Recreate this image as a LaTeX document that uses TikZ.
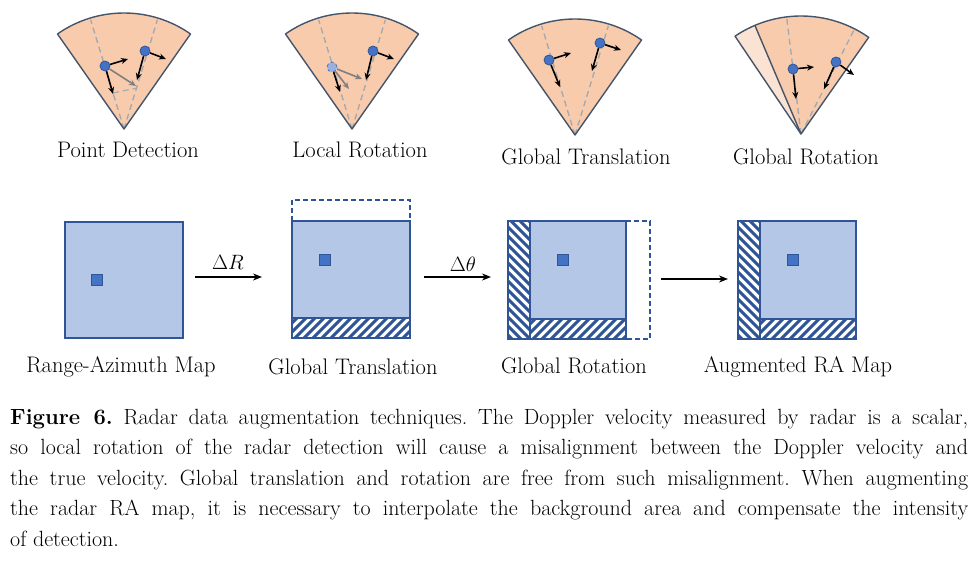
\documentclass[tikz,border=0pt]{standalone}
\usetikzlibrary{arrows.meta}
\definecolor{peach}{HTML}{F8CBAD}
\definecolor{peachL}{HTML}{FBE3D3}
\definecolor{edgec}{HTML}{44546A}
\definecolor{dashg}{HTML}{A0A8B0}
\definecolor{dotb}{HTML}{4472C4}
\definecolor{dotbd}{HTML}{2F5597}
\definecolor{boxf}{HTML}{B4C7E7}
\definecolor{boxd}{HTML}{2F5597}
\begin{document}
\begin{tikzpicture}[x=1pt,y=-1pt,
  sect/.style={fill=peach,draw=edgec,line width=1.4pt,line join=round},
  dsh/.style={draw=dashg,dashed,line width=1.3pt,dash pattern=on 6pt off 4pt},
  dot/.style={circle,fill=dotb,draw=dotbd,line width=0.8pt,inner sep=0pt,minimum size=10pt},
  ldot/.style={circle,fill=dotb!55,draw=dotb,dashed,line width=0.8pt,inner sep=0pt,minimum size=10pt},
  vec/.style={-{Stealth[length=7pt,width=6pt]},line width=1.6pt,black},
  gvec/.style={-{Stealth[length=7pt,width=6pt]},line width=1.6pt,gray},
  lbl/.style={font=\fontsize{22.5}{26}\selectfont},
  box/.style={fill=boxf,draw=boxd,line width=1.2pt},
  sq/.style={fill=dotb,draw=dotbd,line width=0.8pt,minimum size=11pt,inner sep=0pt},
  arr/.style={-{Stealth[length=9pt,width=7pt]},line width=1.6pt,black}]
\useasboundingbox (0,0) rectangle (975,561);
\newcommand\mysector[3]{% apex x, y, radius
  \fill[peach] (#1,#2) -- ++(-125:#3) arc[start angle=-125,end angle=-55,radius=#3] -- cycle;
  \draw[dsh] (#1,#2) -- ++(-107:#3-2);
  \draw[dsh] (#1,#2) -- ++(-73:#3-2);
  \draw[sect,fill=none] (#1,#2) -- ++(-125:#3) arc[start angle=-125,end angle=-55,radius=#3] -- cycle;}
\newcommand\hatchsl[4]{% "/" x0 y0 x1 y1
  \begin{scope}\clip (#1,#2) rectangle (#3,#4);
  \fill[white] (#1,#2) rectangle (#3,#4);
  \pgfmathsetmacro\hh{#4-#2}
  \foreach \a in {-150,-141,...,150}{\draw[boxd,line width=3pt] (#1+\a,#4) -- ++(\hh+2,-\hh-2);}
  \end{scope}\draw[boxd,line width=1.2pt] (#1,#2) rectangle (#3,#4);}
\newcommand\hatchbs[4]{% "\" x0 y0 x1 y1
  \begin{scope}\clip (#1,#2) rectangle (#3,#4);
  \fill[white] (#1,#2) rectangle (#3,#4);
  \pgfmathsetmacro\hh{#4-#2}
  \foreach \a in {-150,-141,...,40}{\draw[boxd,line width=3pt] (#1+\a,#2) -- ++(\hh+2,\hh+2);}
  \end{scope}\draw[boxd,line width=1.2pt] (#1,#2) rectangle (#3,#4);}

% ---------- sector 1
\mysector{124}{129}{116}
\draw[dsh,line width=1.1pt] (113,93) -- (137,88);
\node[dot] (p1) at (105,66) {};
\node[dot] (p2) at (145,51) {};
\coordinate (p1a) at (128,59); \coordinate (p1b) at (113,94); \coordinate (p1c) at (136,86);
\coordinate (p2a) at (166,59); \coordinate (p2b) at (137,80);
\draw[gvec] (p1) -- (p1c);
\draw[vec] (p1) -- (p1a); \draw[vec] (p1) -- (p1b);
\draw[vec] (p2) -- (p2a); \draw[vec] (p2) -- (p2b);
\node[lbl] (l1) at (128,150) {Point Detection};

% ---------- sector 2
\mysector{352}{129}{116}
\node[ldot] (q1) at (332,67) {};
\node[dot] (q2) at (373,51) {};
\coordinate (q1a) at (340,92); \coordinate (q1b) at (349,89); \coordinate (q1c) at (362,79);
\coordinate (q2a) at (394,59); \coordinate (q2b) at (366,80);
\draw[gvec] (q1) -- (q1c); \draw[gvec] (q1) -- (q1b);
\draw[vec] (q1) -- (q1a);
\draw[vec] (q2) -- (q2a); \draw[vec] (q2) -- (q2b);
\node[lbl] (l2) at (360,150) {Local Rotation};

% ---------- sector 3
\mysector{575}{135}{116}
\node[dot] (r1) at (549,60) {};
\node[dot] (r2) at (600,43) {};
\coordinate (r1a) at (571,53); \coordinate (r1b) at (560,87);
\coordinate (r2a) at (621,50); \coordinate (r2b) at (592,71);
\draw[vec] (r1) -- (r1a); \draw[vec] (r1) -- (r1b);
\draw[vec] (r2) -- (r2a); \draw[vec] (r2) -- (r2b);
\node[lbl] (l3) at (586,157) {Global Translation};

% ---------- sector 4
\fill[peachL] (801,134) -- ++(-124:118) arc[start angle=-124,end angle=-113,radius=118] -- cycle;
\fill[peach] (801,134) -- ++(-113:118) arc[start angle=-113,end angle=-55,radius=118] -- cycle;
\draw[dsh] (801,134) -- ++(-97:116);
\draw[dsh] (801,134) -- ++(-63:116);
\draw[sect,fill=none] (801,134) -- ++(-124:118) arc[start angle=-124,end angle=-55,radius=118] -- cycle;
\draw[sect,fill=none] (801,134) -- ++(-113:118);
\node[dot] (s1) at (793,69) {};
\node[dot] (s2) at (836,62) {};
\coordinate (s1a) at (814,67); \coordinate (s1b) at (796,99);
\coordinate (s2a) at (854,75); \coordinate (s2b) at (824,89);
\draw[vec] (s1) -- (s1a); \draw[vec] (s1) -- (s1b);
\draw[vec] (s2) -- (s2a); \draw[vec] (s2) -- (s2b);
\node[lbl] (l4) at (806,157) {Global Rotation};

% ---------- bottom row
\draw[box] (65,222) rectangle (183,338);
\node[sq] (m1) at (97,280) {};
\node[lbl] (b1) at (121,367) {Range-Azimuth Map};

\coordinate (a1s) at (195,277); \coordinate (a1e) at (262,277);
\draw[arr] (a1s) -- (a1e);
\node[lbl] (dR) at (228,262) {$\Delta R$};

\draw[boxd,dashed,line width=1.2pt,dash pattern=on 5pt off 3pt] (292,221) -- (292,200) -- (410,200) -- (410,221);
\draw[box] (292,221) rectangle (410,318);
\hatchsl{292}{318}{410}{338}
\node[sq] (m2) at (325,260) {};
\node[lbl] (b2) at (353,367) {Global Translation};

\coordinate (a2s) at (424,277); \coordinate (a2e) at (491,277);
\draw[arr] (a2s) -- (a2e);
\node[lbl] (dT) at (463,264) {$\Delta\theta$};

\draw[boxd,dashed,line width=1.2pt,dash pattern=on 5pt off 3pt] (626,221) -- (650,221) -- (650,339) -- (626,339);
\draw[box] (530,221) rectangle (626,319);
\hatchbs{508}{221}{530}{339}
\hatchsl{530}{319}{626}{339}
\node[sq] (m3) at (563,260) {};
\node[lbl] (b3) at (574,366) {Global Rotation};

\coordinate (a3s) at (661,279); \coordinate (a3e) at (728,279);
\draw[arr] (a3s) -- (a3e);

\draw[box] (760,221) rectangle (856,319);
\hatchbs{738}{221}{760}{339}
\hatchsl{760}{319}{856}{339}
\node[sq] (m4) at (793,260) {};
\node[lbl] (b4) at (798,367) {Augmented RA Map};

% ---------- caption
\node[anchor=north west,inner sep=0pt,text width=958pt,align=justify,
  font=\fontsize{22}{30.5}\selectfont\frenchspacing] (cap) at (10,409) {%
\textbf{Figure 6.} Radar data augmentation techniques. The Doppler velocity measured by radar is a scalar,\linebreak
so local rotation of the radar detection will cause a misalignment between the Doppler velocity and\linebreak
the true velocity. Global translation and rotation are free from such misalignment. When augmenting\linebreak
the radar RA map, it is necessary to interpolate the background area and compensate the intensity\linebreak
of detection.};
\end{tikzpicture}
\end{document}
